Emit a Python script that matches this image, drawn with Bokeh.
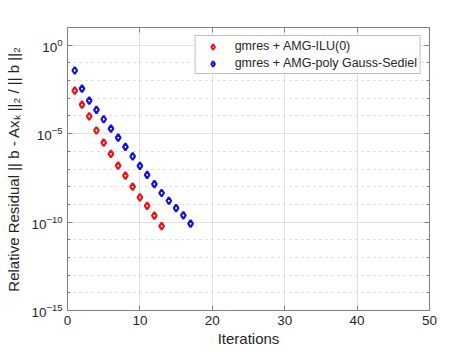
from bokeh.plotting import figure
from bokeh.models import (FixedTicker, LogAxis, LinearAxis, Legend, LegendItem,
                          CustomJSTickFormatter, LogTickFormatter, ColumnDataSource)
from bokeh.embed import file_html
from bokeh.resources import INLINE

# ---- data ----
ilu_iter = [1, 2, 3, 4, 5, 6, 7, 8, 9, 10, 11, 12, 13]
ilu_res = [2.7e-3, 4.4e-4, 9.5e-5, 1.5e-5, 3.1e-6, 7.1e-7, 1.55e-7, 4.2e-8,
           1.0e-8, 2.5e-9, 8.3e-10, 2.3e-10, 5.9e-11]

gs_iter = [1, 2, 3, 4, 5, 6, 7, 8, 9, 10, 11, 12, 13, 14, 15, 16, 17]
gs_res = [3.7e-2, 3.5e-3, 7.4e-4, 2.2e-4, 6.5e-5, 1.9e-5, 5.9e-6, 1.8e-6,
          5.2e-7, 1.5e-7, 4.6e-8, 1.4e-8, 4.4e-9, 1.6e-9, 6.2e-10, 2.4e-10, 8.1e-11]

series_labels = ["gmres + AMG-ILU(0)", "gmres + AMG-poly Gauss-Sediel"]

x_ticks = [0, 10, 20, 30, 40, 50]
y_major_ticks = [1e-15, 1e-10, 1e-5, 1e0]
y_minor_ticks = [1e-15, 1e-14, 1e-13, 1e-12, 1e-11, 1e-10, 1e-9, 1e-8, 1e-7,
                 1e-6, 1e-5, 1e-4, 1e-3, 1e-2, 1e-1, 1e0, 1e1]

FONT = "Liberation Sans"
AXC = "#808080"
TXT = "#262626"

p = figure(width=474, height=351, y_axis_type="log",
           x_range=(0, 50), y_range=(1e-15, 1e1),
           output_backend="svg", toolbar_location=None,
           min_border_left=67, min_border_right=45,
           min_border_top=27, min_border_bottom=41)
p.outline_line_color = AXC
p.background_fill_color = "white"
p.border_fill_color = "white"

bottom_ax = p.below[0]
left_ax = p.left[0]

xt = FixedTicker(ticks=x_ticks)
yt = FixedTicker(ticks=y_major_ticks, minor_ticks=y_minor_ticks)
blank = CustomJSTickFormatter(code="return '';")

bottom_ax.ticker = xt
left_ax.ticker = yt
left_ax.formatter = LogTickFormatter()
p.xgrid.ticker = xt
p.ygrid.ticker = yt

p.xgrid.grid_line_color = "#e2e2e2"
p.ygrid.grid_line_color = "#e2e2e2"
p.ygrid.minor_grid_line_color = "#d4d4d4"
p.ygrid.minor_grid_line_dash = "dotted"

top_ax = LinearAxis(ticker=xt, formatter=blank)
right_ax = LogAxis(ticker=yt, formatter=blank)
p.add_layout(top_ax, "above")
p.add_layout(right_ax, "right")

for ax in [bottom_ax, left_ax, top_ax, right_ax]:
    ax.axis_line_color = AXC
    ax.major_tick_line_color = AXC
    ax.minor_tick_line_color = AXC
    ax.major_tick_in = 5
    ax.major_tick_out = 0
    ax.minor_tick_in = 3
    ax.minor_tick_out = 0
    ax.major_label_text_font = FONT
    ax.major_label_text_font_size = "13.5px"
    ax.major_label_text_color = TXT
    ax.major_label_standoff = 5
for ax in [bottom_ax, top_ax]:
    ax.minor_tick_line_color = None
for ax in [top_ax, right_ax]:
    ax.major_label_text_font_size = "1px"
    ax.major_label_standoff = 0

bottom_ax.axis_label = "Iterations"
left_ax.axis_label = "Relative Residual || b - Ax\u2096 ||\u2082 / || b ||\u2082"
for ax in [bottom_ax, left_ax]:
    ax.axis_label_text_font = FONT
    ax.axis_label_text_font_size = "15px"
    ax.axis_label_text_font_style = "normal"
    ax.axis_label_text_color = TXT
bottom_ax.axis_label_standoff = 2
left_ax.axis_label_standoff = 6

src1 = ColumnDataSource(dict(x=ilu_iter, y=ilu_res))
src2 = ColumnDataSource(dict(x=gs_iter, y=gs_res))
r1 = p.scatter("x", "y", source=src1, marker="diamond",
               size=7, fill_color=None, line_color="#e8161c", line_width=2.2)
r2 = p.scatter("x", "y", source=src2, marker="diamond",
               size=7, fill_color=None, line_color="#1414d8", line_width=2.2)

legend = Legend(items=[LegendItem(label=series_labels[0], renderers=[r1]),
                       LegendItem(label=series_labels[1], renderers=[r2])],
                location="top_right")
legend.margin = 8
legend.padding = 3
legend.spacing = 3
legend.glyph_width = 28
legend.glyph_height = 13
legend.label_height = 13
legend.label_standoff = 8
legend.label_text_font = FONT
legend.label_text_font_size = "12.5px"
legend.label_text_color = TXT
legend.border_line_color = AXC
legend.background_fill_color = "white"
legend.background_fill_alpha = 1.0
p.add_layout(legend)

open("out.html", "w").write(file_html(p, INLINE))
